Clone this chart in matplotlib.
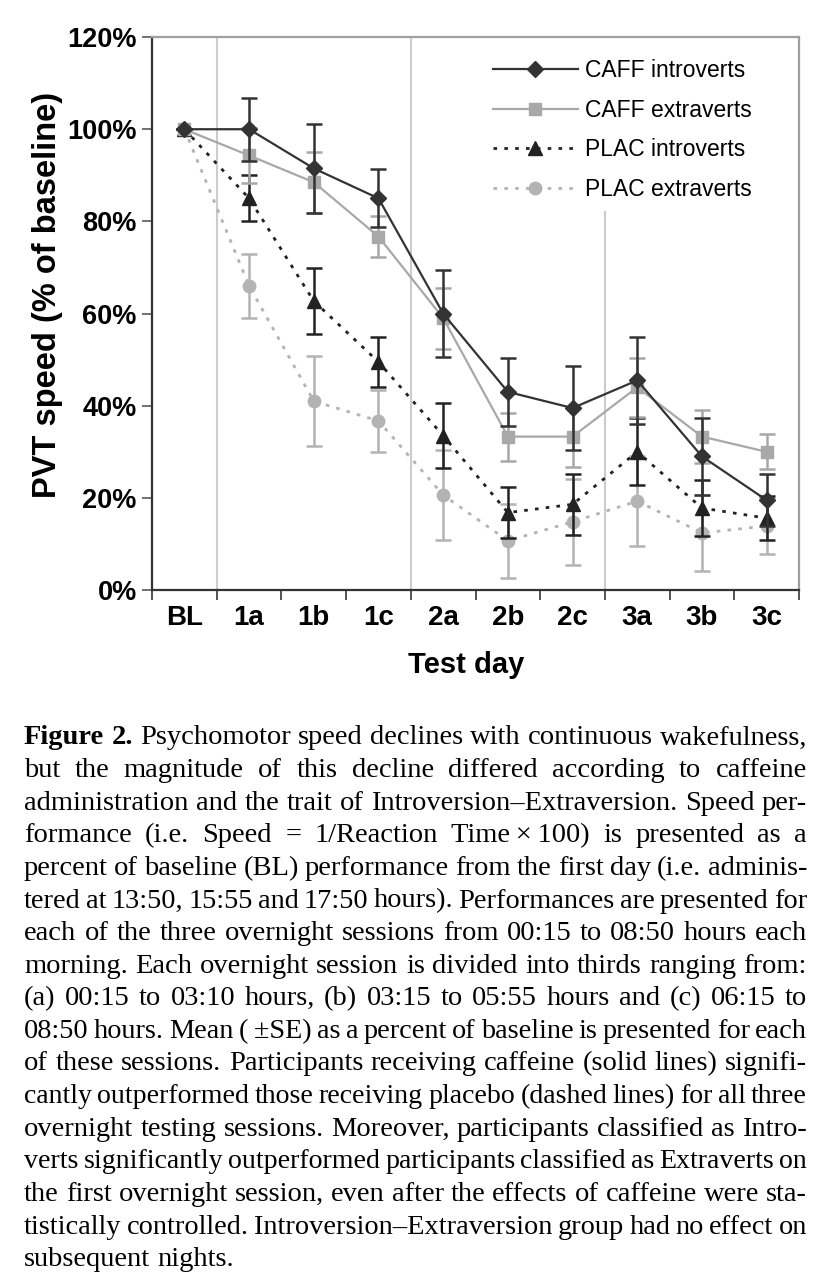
"""PVT speed by test day, caffeine vs placebo, introverts vs extraverts"""

import numpy as np
from matplotlib import pyplot as plt
from matplotlib.lines import Line2D

sessions = ["BL", "1a", "1b", "1c", "2a", "2b", "2c", "3a", "3b", "3c"]

caff_intro = [100, 100, 91.5, 85, 60, 43, 39.5, 45.5, 29, 19.5]
caff_intro_se = [0, 6.8, 9.7, 6.3, 9.5, 7.3, 9.1, 9.5, 8.3, 5.6]
caff_extra = [100, 94.3, 88.5, 76.7, 59, 33.3, 33.3, 44, 33.3, 30]
caff_extra_se = [0, 6, 6.6, 4.5, 6.6, 5.2, 6.5, 6.4, 5.7, 3.8]
plac_intro = [100, 85, 62.7, 49.5, 33.5, 16.8, 18.6, 30, 17.8, 15.6]
plac_intro_se = [0, 5, 7.2, 5.4, 7, 5.5, 6.6, 7.3, 6, 4.8]
plac_extra = [100, 66, 41, 36.7, 20.6, 10.7, 14.8, 19.3, 12.4, 13.9]
plac_extra_se = [0, 7, 9.7, 6.7, 9.8, 8, 9.3, 9.8, 8.3, 6]

caption = [
    "Figure 2. Psychomotor speed declines with continuous wakefulness,",
    "but the magnitude of this decline differed according to caffeine",
    "administration and the trait of Introversion\u2013Extraversion. Speed per-",
    "formance (i.e. Speed = 1/Reaction Time\u2009\u00d7\u2009100) is presented as a",
    "percent of baseline (BL) performance from the first day (i.e. adminis-",
    "tered at 13:50, 15:55 and 17:50 hours). Performances are presented for",
    "each of the three overnight sessions from 00:15 to 08:50 hours each",
    "morning. Each overnight session is divided into thirds ranging from:",
    "(a) 00:15 to 03:10 hours, (b) 03:15 to 05:55 hours and (c) 06:15 to",
    "08:50 hours. Mean (\u2009\u00b1SE) as a percent of baseline is presented for each",
    "of these sessions. Participants receiving caffeine (solid lines) signifi-",
    "cantly outperformed those receiving placebo (dashed lines) for all three",
    "overnight testing sessions. Moreover, participants classified as Intro-",
    "verts significantly outperformed participants classified as Extraverts on",
    "the first overnight session, even after the effects of caffeine were sta-",
    "tistically controlled. Introversion\u2013Extraversion group had no effect on",
    "subsequent nights.",
]

plt.rcParams["font.family"] = ["Liberation Sans", "DejaVu Sans"]

fig = plt.figure(figsize=(8.22, 12.78), dpi=100)
ax = fig.add_axes([0.185, 0.5383, 0.787, 0.4327])

x = np.arange(len(sessions))

dots = (0, (1.3, 2.6))
series = [
    ("CAFF introverts", caff_intro, caff_intro_se, "#333333", "D", 8, "-", 1.6),
    ("CAFF extraverts", caff_extra, caff_extra_se, "#a8a8a8", "s", 9, "-", 1.6),
    ("PLAC introverts", plac_intro, plac_intro_se, "#222222", "^", 10, dots, 2.0),
    ("PLAC extraverts", plac_extra, plac_extra_se, "#b3b3b3", "o", 9, dots, 2.0),
]

# session separators
for xv, top in [(0.5, 120), (3.5, 120), (6.5, 82)]:
    ax.plot([xv, xv], [0, top], color="#cccccc", lw=1.5, zorder=1)

proxies = []
for order, (label, vals, se, color, marker, ms, ls, lw) in enumerate(reversed(series)):
    ax.errorbar(x, vals, yerr=se, color=color, ecolor=color, elinewidth=1.8,
                capsize=6, capthick=1.8, lw=lw, linestyle=ls, marker=marker,
                markersize=ms, markeredgecolor=color, markerfacecolor=color,
                zorder=3 + order)
for label, vals, se, color, marker, ms, ls, lw in series:
    proxies.append(Line2D([], [], color=color, lw=lw, linestyle=ls, marker=marker,
                          markersize=ms, markeredgecolor=color, label=label))

ax.set_xlim(-0.5, 9.5)
ax.set_ylim(0, 120)
ax.set_yticks(np.arange(0, 121, 20))
ax.set_yticklabels(["%d%%" % v for v in range(0, 121, 20)])
ax.set_xticks(np.arange(-0.5, 10, 1))
ax.set_xticklabels([])
ax.set_xticks(x, minor=True)
ax.set_xticklabels(sessions, minor=True)
ax.tick_params(axis="x", which="major", direction="out", length=7, width=1.3, color="#444444")
ax.tick_params(axis="x", which="minor", length=0, pad=11)
ax.tick_params(axis="y", direction="out", length=7, width=1.3, color="#666666", pad=4)
for lab in ax.get_xticklabels(minor=True):
    lab.set_fontsize(20)
    lab.set_fontweight("bold")
for lab in ax.get_yticklabels():
    lab.set_fontsize(19.5)
    lab.set_fontweight("bold")

for side in ["left", "bottom"]:
    ax.spines[side].set_color("#333333")
    ax.spines[side].set_linewidth(1.6)
for side in ["top", "right"]:
    ax.spines[side].set_color("#a0a0a0")
    ax.spines[side].set_linewidth(1.6)

ax.set_ylabel("PVT speed (% of baseline)", fontsize=23.5, fontweight="bold", va="center")
ax.yaxis.set_label_coords(-0.161, 0.533)
ax.set_xlabel("Test day", fontsize=21, fontweight="bold")
ax.xaxis.set_label_coords(0.486, -0.111)

ax.legend(handles=proxies, loc="upper left", bbox_to_anchor=(0.495, 0.997),
          frameon=False, fontsize=16.5, handlelength=3.7, handletextpad=0.3,
          labelspacing=0.72)

# caption, justified word by word
cap_size = 20.5
serif = ["Liberation Serif", "DejaVu Serif"]
renderer = fig.canvas.get_renderer()
left_px, right_px = 24, 807
top_px, step_px = 738, 32.6
W, H = fig.bbox.width, fig.bbox.height


def text_width(s, size, weight="normal"):
    t = fig.text(0, 0, s, fontsize=size, family=serif, fontweight=weight)
    w = t.get_window_extent(renderer).width
    t.remove()
    return w


space_w = text_width("a a", cap_size) - 2 * text_width("a", cap_size)
for i, line in enumerate(caption):
    words = line.split(" ")
    weights = ["bold" if (i == 0 and j < 2) else "normal" for j in range(len(words))]
    last = i == len(caption) - 1
    size = cap_size
    natural = sum(text_width(w, size, wt) for w, wt in zip(words, weights))
    min_gap = 0.75 * space_w
    avail = right_px - left_px
    if not last and natural + min_gap * (len(words) - 1) > avail:
        size = cap_size * (avail - min_gap * (len(words) - 1)) / natural
    texts = [fig.text(0, 1 - (top_px + i * step_px) / H, w, fontsize=size, family=serif,
                      fontweight=wt, va="center", ha="left")
             for w, wt in zip(words, weights)]
    widths = [t.get_window_extent(renderer).width for t in texts]
    if not last and len(words) > 1:
        gap = (avail - sum(widths)) / (len(words) - 1)
    else:
        gap = space_w
    xpos = left_px
    for t, w in zip(texts, widths):
        t.set_x(xpos / W)
        xpos += w + gap

fig.savefig("out.png", dpi=100)
